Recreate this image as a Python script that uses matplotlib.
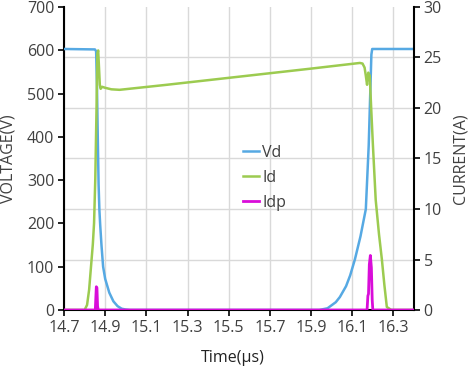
import numpy as np
import matplotlib
matplotlib.use("Agg")
import matplotlib.pyplot as plt

# ---- data ----
t_vd = [14.70, 14.85, 14.856, 14.860, 14.864, 14.868, 14.872, 14.876, 14.882, 14.89, 14.90,
        14.92, 14.94, 14.96, 14.98, 15.00, 15.02, 15.94, 15.98, 16.02, 16.04, 16.07, 16.09,
        16.113, 16.14, 16.166, 16.18, 16.193, 16.197, 16.40]
vd = [603, 602, 598, 520, 400, 290, 230, 195, 150, 100, 72,
      40, 20, 9, 3, 1, 0, 0, 4, 18, 30, 55, 80,
      117, 170, 233, 380, 590, 603, 603]

t_id = [14.70, 14.80, 14.812, 14.822, 14.832, 14.840, 14.846, 14.852, 14.858, 14.862, 14.866,
        14.870, 14.874, 14.878, 14.885, 14.90, 14.93, 14.97, 15.20, 15.55, 15.90, 16.137,
        16.150, 16.160, 16.166, 16.172, 16.178, 16.185, 16.192, 16.200, 16.214, 16.230,
        16.244, 16.256, 16.268, 16.29, 16.40]
i_d = [0, 0, 0.5, 2.0, 4.5, 6.5, 8.6, 13, 20, 25.4, 25.7,
       24.0, 22.3, 21.9, 22.1, 22.0, 21.85, 21.8, 22.3, 23.1, 23.9, 24.46,
       24.4, 24.0, 23.2, 22.3, 23.5, 23.2, 20.0, 16.5, 10.9, 7.5,
       5.0, 2.5, 0.3, 0, 0]

t_idp = [14.70, 14.852, 14.855, 14.857, 14.860, 14.863, 14.866, 16.172, 16.176, 16.179,
         16.183, 16.188, 16.193, 16.197, 16.200, 16.40]
i_dp = [0, 0, 1.4, 2.3, 2.2, 0.4, 0, 0, 1.4, 1.6,
        4.5, 5.4, 4.2, 1.0, 0, 0]

x_ticks = [14.7, 14.9, 15.1, 15.3, 15.5, 15.7, 15.9, 16.1, 16.3]
v_ticks = [0, 100, 200, 300, 400, 500, 600, 700]
i_ticks = [0, 5, 10, 15, 20, 25, 30]

# ---- style ----
plt.rcParams['font.family'] = ['Open Sans', 'DejaVu Sans']
txt = '#404040'
c_vd, c_id, c_idp = '#56A9E3', '#9CCB50', '#D90DD9'
grid_c = '#D9D9D9'
fs = 11.5

fig = plt.figure(figsize=(4.74, 3.68), dpi=100)
ax1 = fig.add_axes([64/474, 1-310/368, 350/474, 303/368])
ax2 = ax1.twinx()

ax1.set_xlim(14.7, 16.4)
ax1.set_ylim(0, 700)
ax2.set_ylim(0, 30)

l1, = ax1.plot(t_vd, vd, color=c_vd, lw=1.8, label='Vd', zorder=3)
l2, = ax2.plot(t_id, i_d, color=c_id, lw=1.8, label='Id', zorder=3)
l3, = ax2.plot(t_idp, i_dp, color=c_idp, lw=2.0, label='Idp', zorder=4)

ax1.set_xticks(x_ticks)
ax1.set_xticklabels([f'{v:.1f}' for v in x_ticks])
ax1.set_yticks(v_ticks)
ax2.set_yticks(i_ticks)

# grid: vertical at x ticks, horizontal at current ticks
ax1.set_yticks([700 * v / 30 for v in i_ticks], minor=True)
ax1.grid(which='minor', axis='y', color=grid_c, lw=1.0)
ax1.grid(which='major', axis='x', color=grid_c, lw=1.0)
ax1.set_axisbelow(True)

for ax in (ax1, ax2):
    ax.spines['top'].set_visible(False)
    for s in ('left', 'right', 'bottom'):
        ax.spines[s].set_color('black')
        ax.spines[s].set_linewidth(1.5)
    ax.tick_params(which='major', direction='out', length=4, width=1.2,
                   color='black', labelcolor=txt, labelsize=fs, pad=3)
ax1.tick_params(which='minor', length=0)
ax1.spines['right'].set_visible(False)
ax2.spines['left'].set_visible(False)
ax2.spines['bottom'].set_visible(False)

ax1.set_ylabel('VOLTAGE(V)', color=txt, fontsize=fs)
ax1.yaxis.set_label_coords((17-64)/350, 0.5)
ax2.set_ylabel('CURRENT(A)', color=txt, fontsize=fs, rotation=90)
ax2.yaxis.set_label_coords((452-64)/350, 0.5)
ax1.set_xlabel('Time(\u00b5s)', color='#222222', fontsize=fs)
ax1.xaxis.set_label_coords(0.483, (310-350)/303)

leg = ax2.legend(handles=[l1, l2, l3], loc='upper left',
                 bbox_to_anchor=((243-64)/350, (310-145)/303),
                 frameon=False, fontsize=fs, handlelength=1.0, handletextpad=0.2,
                 labelspacing=0.55, borderpad=0, borderaxespad=0)
for t in leg.get_texts():
    t.set_color(txt)

fig.savefig('out.png', dpi=100)
